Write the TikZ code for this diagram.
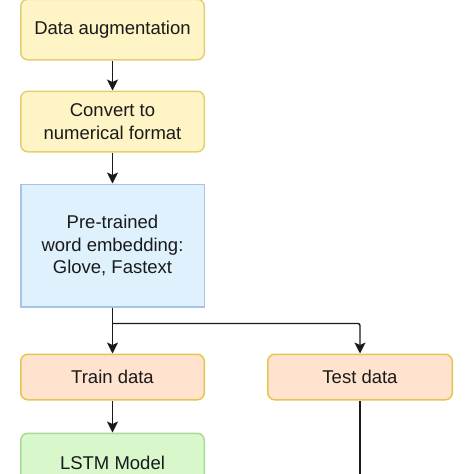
\documentclass[tikz,border=0pt]{standalone}
\usepackage{fontspec}
\setmainfont{Liberation Sans}
\usepackage{xcolor}
\usetikzlibrary{positioning,arrows.meta,calc}
\definecolor{flink}{HTML}{1A1A1A}
\definecolor{flyellow}{HTML}{FFF4C6}
\definecolor{flyellowb}{HTML}{E2CF72}
\definecolor{flblue}{HTML}{DEF1FD}
\definecolor{flblueb}{HTML}{A6C3EA}
\definecolor{florange}{HTML}{FFE3CE}
\definecolor{florangeb}{HTML}{E4C64C}
\definecolor{flgreen}{HTML}{D8F7CB}
\definecolor{flgreenb}{HTML}{A8DA94}

\begin{document}
\begin{tikzpicture}[
  font=\fontsize{18.5}{22.5}\selectfont, text=flink,
  stepbox/.style={line width=1.5pt, rounded corners=7pt, minimum width=183.5pt,
    inner sep=0pt, align=center},
  prep/.style={stepbox, draw=flyellowb, fill=flyellow, minimum height=60.5pt},
  embed/.style={stepbox, rounded corners=0pt, draw=flblueb, fill=flblue,
    minimum height=122.5pt},
  split/.style={stepbox, draw=florangeb, fill=florange, minimum height=45.5pt},
  model/.style={stepbox, draw=flgreenb, fill=flgreen, minimum height=58.5pt},
  arr/.style={-{Stealth[length=11pt, width=11pt, inset=2.5pt]}, line width=1.4pt, draw=flink},
  ]
  \useasboundingbox (0,0) rectangle (474pt,-474pt);
  % Preprocessing chain.
  \node[prep] (aug) at (112.5pt,-29.5pt) {Data augmentation};
  \node[prep, below=30pt of aug] (conv) {Convert to\\numerical format};
  \node[embed, below=31pt of conv] (emb) {Pre-trained\\word embedding:\\Glove, Fastext};

  % Train / test split.
  \node[split, below=46pt of emb] (train) {Train data};
  \node[split, right=62pt of train, minimum width=184.5pt] (test) {Test data};
  \node[model, below=32pt of train] (lstm) {LSTM Model};

  \coordinate (fork) at ($(emb.south)+(0,-16pt)$);
  \coordinate (testout) at ($(test.south)+(0,-90pt)$);

  \draw[arr] (aug) -- (conv);
  \draw[arr] (conv) -- (emb);
  \draw[arr] (emb) -- (train);
  \draw[arr, rounded corners=2pt] (fork) -| (test.north);
  \draw[arr] (train) -- (lstm);
  \draw[line width=1.4pt, draw=flink] (test) -- (testout);
\end{tikzpicture}
\end{document}
